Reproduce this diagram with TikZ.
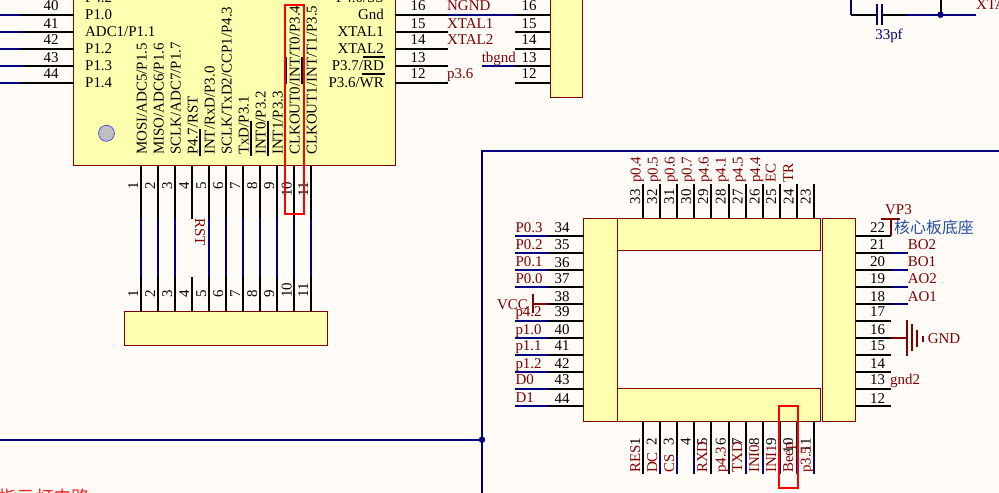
\documentclass[tikz,border=0pt]{standalone}
\usepackage{fontspec}
\setmainfont{Liberation Serif}
\newfontfamily\cjk{Noto Sans CJK SC}
\definecolor{paperbg}{HTML}{FFFCF8}
\definecolor{boxfill}{HTML}{FFFFB0}
\definecolor{boxred}{HTML}{800000}
\definecolor{wireblue}{HTML}{000080}
\definecolor{notered}{HTML}{FF2020}
\definecolor{cjkblue}{HTML}{2850A0}
\begin{document}
\begin{tikzpicture}[x=1bp,y=-1bp,font=\fontsize{15}{15}\selectfont,
  schbox/.style={draw=boxred,fill=boxfill,line width=1bp,inner sep=0,outer sep=0},
  pinline/.style={draw=black,line width=2bp},
  wire/.style={draw=wireblue,line width=2bp},
  redwire/.style={draw=boxred,line width=2bp},
  numtxt/.style={inner sep=0,anchor=base,text=black},
  numup/.style={inner sep=0,rotate=90,anchor=base east,text=black},
  numupb/.style={inner sep=0,rotate=90,anchor=base west,text=black},
  chiptxt/.style={inner sep=0,anchor=base west,text=black},
  chiptxtr/.style={inner sep=0,anchor=base east,text=black},
  chipup/.style={inner sep=0,rotate=90,anchor=base west,text=black},
  nettxt/.style={inner sep=0,anchor=base west,text=boxred},
  netup/.style={inner sep=0,rotate=90,anchor=base west,text=boxred},
  redmark/.style={draw=red,line width=2bp,inner sep=0,outer sep=0}]

\coordinate (pagea) at (0,0);
\coordinate (pageb) at (999,493);
\useasboundingbox (pagea) rectangle (pageb);
\clip (pagea) rectangle (pageb);
\fill[paperbg] (pagea) rectangle (pageb);

% boxes
\node[schbox,minimum width=321bp,minimum height=226bp] (ua) at (234.5,53) {};
\node[schbox,minimum width=32.5bp,minimum height=138bp] (ub) at (566.25,29) {};
\node[schbox,minimum width=203bp,minimum height=33bp] (uc) at (226,328.5) {};
\node[schbox,minimum width=33.5bp,minimum height=202.5bp] (ul) at (600.25,319.75) {};
\node[schbox,minimum width=203bp,minimum height=32.5bp] (ut) at (719,234.75) {};
\node[schbox,minimum width=203bp,minimum height=33bp] (um) at (719,404.5) {};
\node[schbox,minimum width=33.5bp,minimum height=202.5bp] (ur) at (838.75,319.75) {};

% frame and long nets
\coordinate (framea) at (482,493);
\coordinate (frameb) at (482,151.3);
\coordinate (framec) at (999,151.3);
\coordinate (linea) at (0,439.7);
\coordinate (lineb) at (482,439.7);
\draw[wire] (framea) -- (frameb) -- (framec);
\draw[wire] (linea) -- (lineb);
\filldraw[fill=wireblue,draw=wireblue] (lineb) circle (3bp);

% upper chip, left pins
\coordinate (wa) at (0,0);
\coordinate (a40) at (21,14.7);
\coordinate (a41) at (21,32);
\coordinate (a42) at (21,48.7);
\coordinate (a43) at (23,66);
\coordinate (a44) at (21,82.7);
\draw[pinline] (ua.west |- a40) -- (a40);
\draw[pinline] (ua.west |- a41) -- (a41);
\draw[pinline] (ua.west |- a42) -- (a42);
\draw[pinline] (ua.west |- a43) -- (a43);
\draw[pinline] (ua.west |- a44) -- (a44);
\draw[wire] (a40) -- (a40 -| wa);
\draw[wire] (a41) -- (a41 -| wa);
\draw[wire] (a42) -- (a42 -| wa);
\draw[wire] (a43) -- (a43 -| wa);
\draw[wire] (a44) -- (a44 -| wa);
\node[numtxt] (na40) at (51,11) {40};
\node[numtxt] (na41) at (51,29) {41};
\node[numtxt] (na42) at (51,45) {42};
\node[numtxt] (na43) at (51,63) {43};
\node[numtxt] (na44) at (51,79) {44};
\node[chiptxt] (ta39) at (85,3) {P4.2};
\node[chiptxt] (ta40) at (85,20) {P1.0};
\node[chiptxt] (ta41) at (85,37) {ADC1/P1.1};
\node[chiptxt] (ta42) at (85,53.7) {P1.2};
\node[chiptxt] (ta43) at (85,70.7) {P1.3};
\node[chiptxt] (ta44) at (85,87.7) {P1.4};
\node[circle,draw=blue!80,fill=black!25,line width=.6bp,minimum size=16bp,inner sep=0] (mark) at (106.5,133.3) {};

% upper chip, right pins
\coordinate (b16) at (448,14.7);
\coordinate (b15) at (448,32);
\coordinate (b14) at (448,48.7);
\coordinate (b13) at (448,66);
\coordinate (b12) at (448,82.7);
\coordinate (c16) at (515,14.7);
\coordinate (c15) at (515,32);
\coordinate (c14) at (515,48.7);
\coordinate (c13) at (515,66);
\coordinate (c12) at (515,82.7);
\coordinate (tbend) at (481.7,66);
\draw[pinline] (ua.east |- b16) -- (b16);
\draw[pinline] (ua.east |- b15) -- (b15);
\draw[pinline] (ua.east |- b14) -- (b14);
\draw[pinline] (ua.east |- b13) -- (b13);
\draw[pinline] (ua.east |- b12) -- (b12);
\draw[pinline] (ub.west |- c16) -- (c16);
\draw[pinline] (ub.west |- c15) -- (c15);
\draw[pinline] (ub.west |- c14) -- (c14);
\draw[pinline] (ub.west |- c13) -- (c13);
\draw[pinline] (ub.west |- c12) -- (c12);
\draw[wire] (b16) -- (c16);
\draw[wire] (tbend) -- (c13);
\node[numtxt] (nb16) at (418,11) {16};
\node[numtxt] (nb15) at (418,29) {15};
\node[numtxt] (nb14) at (418,45) {14};
\node[numtxt] (nb13) at (418,63) {13};
\node[numtxt] (nb12) at (418,79) {12};
\node[numtxt] (nc16) at (529,11) {16};
\node[numtxt] (nc15) at (529,29) {15};
\node[numtxt] (nc14) at (529,45) {14};
\node[numtxt] (nc13) at (529,63) {13};
\node[numtxt] (nc12) at (529,79) {12};
\node[chiptxtr] (tb17) at (384,3) {P4.0/SS};
\node[chiptxtr] (tb16) at (384,20) {Gnd};
\node[chiptxtr] (tb15) at (384,37) {XTAL1};
\node[chiptxtr] (tb14) at (384,54) {XTAL2};
\node[chiptxtr] (tb13) at (384,70.7) {P3.7/RD};
\node[chiptxtr] (tb12) at (384,87.7) {P3.6/WR};
\node[nettxt] (lb16) at (447,11) {NGND};
\node[nettxt] (lb15) at (447,29) {XTAL1};
\node[nettxt] (lb14) at (447,45) {XTAL2};
\node[nettxt] (lb12) at (447,79) {p3.6};
\node[nettxt,anchor=base east] (lc13) at (516,63) {tbgnd};
\draw[pinline] (363,57) -- (385,57);
\draw[pinline] (362,74) -- (385,74);

% upper chip, bottom pins
\coordinate (d1) at (141,218);
\coordinate (d2) at (158,218);
\coordinate (d3) at (175,218);
\coordinate (d4) at (192,219.5);
\coordinate (d5) at (209,218);
\coordinate (d6) at (226,218);
\coordinate (d7) at (243,218);
\coordinate (d8) at (260,218);
\coordinate (d9) at (277,218);
\coordinate (d10) at (294,218);
\coordinate (d11) at (311,218);
\coordinate (e1) at (141,277.5);
\coordinate (e2) at (158,277.5);
\coordinate (e3) at (175,277.5);
\coordinate (e4) at (192,277.5);
\coordinate (e5) at (209,277.5);
\coordinate (e6) at (226,277.5);
\coordinate (e7) at (243,277.5);
\coordinate (e8) at (260,277.5);
\coordinate (e9) at (277,277.5);
\coordinate (e10) at (294,277.5);
\coordinate (e11) at (311,277.5);
\draw[pinline] (ua.south -| d1) -- (d1);
\draw[pinline] (ua.south -| d2) -- (d2);
\draw[pinline] (ua.south -| d3) -- (d3);
\draw[pinline] (ua.south -| d4) -- (d4);
\draw[pinline] (ua.south -| d5) -- (d5);
\draw[pinline] (ua.south -| d6) -- (d6);
\draw[pinline] (ua.south -| d7) -- (d7);
\draw[pinline] (ua.south -| d8) -- (d8);
\draw[pinline] (ua.south -| d9) -- (d9);
\draw[pinline] (ua.south -| d10) -- (d10);
\draw[pinline] (ua.south -| d11) -- (d11);
\draw[wire] (d1) -- (e1);
\draw[wire] (d2) -- (e2);
\draw[wire] (d3) -- (e3);
\draw[wire] (d5) -- (e5);
\draw[wire] (d6) -- (e6);
\draw[wire] (d7) -- (e7);
\draw[wire] (d8) -- (e8);
\draw[wire] (d9) -- (e9);
\draw[wire] (d10) -- (e10);
\draw[wire] (d11) -- (e11);
\draw[pinline] (e1) -- (uc.north -| e1);
\draw[pinline] (e2) -- (uc.north -| e2);
\draw[pinline] (e3) -- (uc.north -| e3);
\draw[pinline] (e4) -- (uc.north -| e4);
\draw[pinline] (e5) -- (uc.north -| e5);
\draw[pinline] (e6) -- (uc.north -| e6);
\draw[pinline] (e7) -- (uc.north -| e7);
\draw[pinline] (e8) -- (uc.north -| e8);
\draw[pinline] (e9) -- (uc.north -| e9);
\draw[pinline] (e10) -- (uc.north -| e10);
\draw[pinline] (e11) -- (uc.north -| e11);
\node[numup] (nd1) at (138,181.5) {1};
\node[numup] (nd2) at (155,181.5) {2};
\node[numup] (nd3) at (172,181.5) {3};
\node[numup] (nd4) at (189,181.5) {4};
\node[numup] (nd5) at (206,181.5) {5};
\node[numup] (nd6) at (223,181.5) {6};
\node[numup] (nd7) at (240,181.5) {7};
\node[numup] (nd8) at (257,181.5) {8};
\node[numup] (nd9) at (274,181.5) {9};
\node[numup] (nd10) at (291.5,181.5) {10};
\node[numup] (nd11) at (308,181.5) {11};
\node[numupb] (ne1) at (138,298) {1};
\node[numupb] (ne2) at (155,298) {2};
\node[numupb] (ne3) at (172,298) {3};
\node[numupb] (ne4) at (189,298) {4};
\node[numupb] (ne5) at (206,298) {5};
\node[numupb] (ne6) at (223,298) {6};
\node[numupb] (ne7) at (240,298) {7};
\node[numupb] (ne8) at (257,298) {8};
\node[numupb] (ne9) at (274,298) {9};
\node[numupb] (ne10) at (291.5,298) {10};
\node[numupb] (ne11) at (308,298) {11};
\node[chipup] (td1) at (146.5,155) {MOSI/ADC5/P1.5};
\node[chipup] (td2) at (163.5,155) {MISO/ADC6/P1.6};
\node[chipup] (td3) at (180.5,155) {SCLK/ADC7/P1.7};
\node[chipup] (td4) at (197.5,155) {P4.7/RST};
\node[chipup] (td5) at (214.5,155) {INT/RxD/P3.0};
\node[chipup] (td6) at (231.5,155) {SCLK/TxD2/CCP1/P4.3};
\node[chipup] (td7) at (248.5,155) {TxD/P3.1};
\node[chipup] (td8) at (265.5,155) {INT0/P3.2};
\node[chipup] (td9) at (282.5,155) {INT1/P3.3};
\node[chipup] (td10) at (299.5,155) {CLKOUT0/INT/T0/P3.4};
\node[chipup] (td11) at (316.5,155) {CLKOUT1/INT/T1/P3.5};
\node[netup,rotate=180,anchor=base west] (rstlabel) at (195,218.5) {RST};
\draw[pinline] (200,129.5) -- (200,156.5);
\draw[pinline] (251,121) -- (251,156.5);
\draw[pinline] (268,121) -- (268,156.5);
\draw[pinline] (286,57.3) -- (286,84.3);
\draw[pinline] (302,57.3) -- (302,84.3);

% crystal part, top right
\coordinate (xa) at (851,0);
\coordinate (xb) at (851,14.7);
\coordinate (xc) at (877,14.7);
\coordinate (xd) at (881.7,14.7);
\coordinate (xe) at (906,14.7);
\coordinate (xf) at (976,14.7);
\coordinate (xg) at (940.5,0);
\coordinate (xh) at (940.5,14.7);
\draw[wire] (xa) -- (xb);
\draw[pinline] (xb) -- (xc);
\draw[pinline] (xd) -- (xe);
\draw[pinline] (xg) -- (xh);
\draw[wire] (xe) -- (xf);
\filldraw[fill=wireblue,draw=wireblue] (xh) circle (3bp);
\draw[wire] (877,4) -- (877,25.3);
\draw[wire] (881.7,4) -- (881.7,25.3);
\node[numtxt,text=wireblue] (capval) at (889,40) {33pf};
\node[nettxt] (xtlabel) at (976,10) {XTA};

% lower chip, left pins
\coordinate (wl) at (515,0);
\coordinate (p34) at (549,235.7);
\coordinate (p35) at (549,252.7);
\coordinate (p36) at (549,269.7);
\coordinate (p37) at (549,286.7);
\coordinate (p38) at (549,304);
\coordinate (p39) at (549,321);
\coordinate (p40) at (549,338);
\coordinate (p41) at (549,355);
\coordinate (p42) at (549,371.7);
\coordinate (p43) at (549,389);
\coordinate (p44) at (549,406);
\coordinate (vcca) at (533,304);
\draw[pinline] (ul.west |- p34) -- (p34);
\draw[pinline] (ul.west |- p35) -- (p35);
\draw[pinline] (ul.west |- p36) -- (p36);
\draw[pinline] (ul.west |- p37) -- (p37);
\draw[pinline] (ul.west |- p38) -- (p38);
\draw[pinline] (ul.west |- p39) -- (p39);
\draw[pinline] (ul.west |- p40) -- (p40);
\draw[pinline] (ul.west |- p41) -- (p41);
\draw[pinline] (ul.west |- p42) -- (p42);
\draw[pinline] (ul.west |- p43) -- (p43);
\draw[pinline] (ul.west |- p44) -- (p44);
\draw[wire] (p34) -- (p34 -| wl);
\draw[wire] (p35) -- (p35 -| wl);
\draw[wire] (p36) -- (p36 -| wl);
\draw[wire] (p37) -- (p37 -| wl);
\draw[wire] (p39) -- (p39 -| wl);
\draw[wire] (p40) -- (p40 -| wl);
\draw[wire] (p41) -- (p41 -| wl);
\draw[wire] (p42) -- (p42 -| wl);
\draw[wire] (p43) -- (p43 -| wl);
\draw[wire] (p44) -- (p44 -| wl);
\draw[redwire] (p38) -- (vcca);
\draw[redwire] (533,294) -- (533,313);
\node[numtxt] (n34) at (562,232.7) {34};
\node[numtxt] (n35) at (562,249.3) {35};
\node[numtxt] (n36) at (562,267.3) {36};
\node[numtxt] (n37) at (562,283.3) {37};
\node[numtxt] (n38) at (562,301.7) {38};
\node[numtxt] (n39) at (562,316.7) {39};
\node[numtxt] (n40) at (562,335) {40};
\node[numtxt] (n41) at (562,351) {41};
\node[numtxt] (n42) at (562,369) {42};
\node[numtxt] (n43) at (562,385) {43};
\node[numtxt] (n44) at (562,403.3) {44};
\node[nettxt] (l34) at (515.3,233) {P0.3};
\node[nettxt] (l35) at (515.3,250) {P0.2};
\node[nettxt] (l36) at (515.3,267) {P0.1};
\node[nettxt] (l37) at (515.3,283.3) {P0.0};
\node[nettxt,anchor=base east] (l38) at (528,310) {VCC};
\node[nettxt] (l39) at (515.3,316.7) {p4.2};
\node[nettxt] (l40) at (515.3,335) {p1.0};
\node[nettxt] (l41) at (515.3,351) {p1.1};
\node[nettxt] (l42) at (515.3,369) {p1.2};
\node[nettxt] (l43) at (515.3,385) {D0};
\node[nettxt] (l44) at (515.3,402.7) {D1};

% lower chip, right pins
\coordinate (wr) at (908,0);
\coordinate (p22) at (891,235.7);
\coordinate (p21) at (891,252.7);
\coordinate (p20) at (891,269.7);
\coordinate (p19) at (891,286.7);
\coordinate (p18) at (891,304);
\coordinate (p17) at (891,321);
\coordinate (p16) at (891,338);
\coordinate (p15) at (891,355);
\coordinate (p14) at (891,371.7);
\coordinate (p13) at (891,389);
\coordinate (p12) at (891,406);
\coordinate (vpa) at (891,218.5);
\coordinate (gnda) at (906.7,338);
\draw[pinline] (ur.east |- p22) -- (p22);
\draw[pinline] (ur.east |- p21) -- (p21);
\draw[pinline] (ur.east |- p20) -- (p20);
\draw[pinline] (ur.east |- p19) -- (p19);
\draw[pinline] (ur.east |- p18) -- (p18);
\draw[pinline] (ur.east |- p17) -- (p17);
\draw[pinline] (ur.east |- p16) -- (p16);
\draw[pinline] (ur.east |- p15) -- (p15);
\draw[pinline] (ur.east |- p14) -- (p14);
\draw[pinline] (ur.east |- p13) -- (p13);
\draw[pinline] (ur.east |- p12) -- (p12);
\draw[wire] (p21) -- (p21 -| wr);
\draw[wire] (p20) -- (p20 -| wr);
\draw[wire] (p19) -- (p19 -| wr);
\draw[wire] (p18) -- (p18 -| wr);
\draw[redwire] (p22) -- (vpa);
\draw[redwire] (881,218.7) -- (900,218.7);
\draw[redwire] (p16) -- (gnda);
\draw[redwire] (906.7,320) -- (906.7,356);
\draw[redwire] (912,324) -- (912,351);
\draw[redwire] (917,330) -- (917,347);
\draw[redwire] (923,336) -- (923,342);
\node[numtxt] (n22) at (877.7,233) {22};
\node[numtxt] (n21) at (877.7,249.3) {21};
\node[numtxt] (n20) at (877.7,267) {20};
\node[numtxt] (n19) at (877.7,283.3) {19};
\node[numtxt] (n18) at (877.7,301.7) {18};
\node[numtxt] (n17) at (877.7,316.7) {17};
\node[numtxt] (n16) at (877.7,335) {16};
\node[numtxt] (n15) at (877.7,350.7) {15};
\node[numtxt] (n14) at (877.7,368.7) {14};
\node[numtxt] (n13) at (877.7,385) {13};
\node[numtxt] (n12) at (877.7,403.3) {12};
\node[nettxt] (l22) at (885,215) {VP3};
\node[nettxt] (l21) at (907.7,249.3) {BO2};
\node[nettxt] (l20) at (907.7,267) {BO1};
\node[nettxt] (l19) at (907.7,283.3) {AO2};
\node[nettxt] (l18) at (907.7,301.7) {AO1};
\node[nettxt] (l16) at (927.7,343.3) {GND};
\node[nettxt] (l13) at (890,385) {gnd2};
\node[inner sep=0,anchor=west,text=cjkblue,font=\cjk\fontsize{16}{16}\selectfont] (boardlabel) at (894,227.3) {核心板底座};

% lower chip, top pins
\coordinate (p33) at (643.3,184);
\coordinate (p32) at (660.3,184);
\coordinate (p31) at (677.3,184);
\coordinate (p30) at (694.3,184);
\coordinate (p29) at (711.3,184);
\coordinate (p28) at (728.7,184);
\coordinate (p27) at (745.7,184);
\coordinate (p26) at (762.7,184);
\coordinate (p25) at (779.7,184);
\coordinate (p24) at (797,184);
\coordinate (p23) at (814,184);
\draw[pinline] (ut.north -| p33) -- (p33);
\draw[pinline] (ut.north -| p32) -- (p32);
\draw[pinline] (ut.north -| p31) -- (p31);
\draw[pinline] (ut.north -| p30) -- (p30);
\draw[pinline] (ut.north -| p29) -- (p29);
\draw[pinline] (ut.north -| p28) -- (p28);
\draw[pinline] (ut.north -| p27) -- (p27);
\draw[pinline] (ut.north -| p26) -- (p26);
\draw[pinline] (ut.north -| p25) -- (p25);
\draw[pinline] (ut.north -| p24) -- (p24);
\draw[pinline] (ut.north -| p23) -- (p23);
\node[numupb] (n33) at (640,204.3) {33};
\node[numupb] (n32) at (657,204.3) {32};
\node[numupb] (n31) at (674,204.3) {31};
\node[numupb] (n30) at (691,204.3) {30};
\node[numupb] (n29) at (708,204.3) {29};
\node[numupb] (n28) at (725.5,204.3) {28};
\node[numupb] (n27) at (742.5,204.3) {27};
\node[numupb] (n26) at (759.5,204.3) {26};
\node[numupb] (n25) at (776,204.3) {25};
\node[numupb] (n24) at (793.5,204.3) {24};
\node[numupb] (n23) at (810.5,204.3) {23};
\node[netup] (l33) at (640.5,183) {p0.4};
\node[netup] (l32) at (657.5,183) {p0.5};
\node[netup] (l31) at (674.5,183) {p0.6};
\node[netup] (l30) at (691.5,183) {p0.7};
\node[netup] (l29) at (708.5,183) {p4.6};
\node[netup] (l28) at (725.5,183) {p4.1};
\node[netup] (l27) at (742.5,183) {p4.5};
\node[netup] (l26) at (760,183) {p4.4};
\node[netup] (l25) at (775.7,183) {EC};
\node[netup] (l24) at (793,183) {TR};

% lower chip, bottom pins
\coordinate (wb) at (0,474);
\coordinate (p1) at (643.3,456);
\coordinate (p2) at (660.3,456);
\coordinate (p3) at (677.3,456);
\coordinate (p4) at (694.3,456);
\coordinate (p5) at (711.3,456);
\coordinate (p6) at (728.7,456);
\coordinate (p7) at (745.7,456);
\coordinate (p8) at (762.7,456);
\coordinate (p9) at (779.7,456);
\coordinate (p10) at (797,456);
\coordinate (p11) at (814,456);
\draw[pinline] (um.south -| p1) -- (p1);
\draw[pinline] (um.south -| p2) -- (p2);
\draw[pinline] (um.south -| p3) -- (p3);
\draw[pinline] (um.south -| p4) -- (p4);
\draw[pinline] (um.south -| p5) -- (p5);
\draw[pinline] (um.south -| p6) -- (p6);
\draw[pinline] (um.south -| p7) -- (p7);
\draw[pinline] (um.south -| p8) -- (p8);
\draw[pinline] (um.south -| p9) -- (p9);
\draw[pinline] (um.south -| p10) -- (p10);
\draw[pinline] (um.south -| p11) -- (p11);
\draw[pinline] (p1) -- (p1 |- wb);
\draw[wire] (p2) -- (p2 |- wb);
\draw[wire] (p3) -- (p3 |- wb);
\draw[wire] (p4) -- (p4 |- wb);
\draw[pinline] (p5) -- (p5 |- wb);
\draw[pinline] (p6) -- (p6 |- wb);
\draw[wire] (p7) -- (p7 |- wb);
\draw[wire] (p8) -- (p8 |- wb);
\draw[wire] (p9) -- (p9 |- wb);
\draw[wire] (p10) -- (p10 |- wb);
\draw[wire] (p11) -- (p11 |- wb);
\node[numup] (n1) at (640,438) {1};
\node[numup] (n2) at (656.7,438) {2};
\node[numup] (n3) at (673.7,438) {3};
\node[numup] (n4) at (690.7,438) {4};
\node[numup] (n5) at (707,438) {5};
\node[numup] (n6) at (725.5,438) {6};
\node[numup] (n7) at (742,438) {7};
\node[numup] (n8) at (759,438) {8};
\node[numup] (n9) at (776,438) {9};
\node[numup] (n10) at (793,438) {10};
\node[numup] (n11) at (810.5,438) {11};
\node[netup] (l1) at (640,473) {RES};
\node[netup] (l2) at (657,473) {DC};
\node[netup] (l3) at (674,473) {CS};
\node[netup] (l5) at (707,473) {RXD};
\node[netup] (l6) at (725.5,473) {p4.3};
\node[netup] (l7) at (742,473) {TXD};
\node[netup] (l8) at (759,473) {INI0};
\node[netup] (l9) at (776,473) {INI1};
\node[netup] (l10) at (793,473) {Beep};
\node[netup] (l11) at (810.5,473) {p3.5};

% red markers and cut-off note
\node[inner sep=0,anchor=base west,text=notered,font=\cjk\fontsize{18.5}{18.5}\selectfont] (notelabel) at (-2,504) {指示灯电路};
\node[redmark,minimum width=19.5bp,minimum height=209.5bp] (marka) at (294.25,109.75) {};
\node[redmark,minimum width=18.4bp,minimum height=81.7bp] (markb) at (788.5,446.8) {};
\end{tikzpicture}
\end{document}
